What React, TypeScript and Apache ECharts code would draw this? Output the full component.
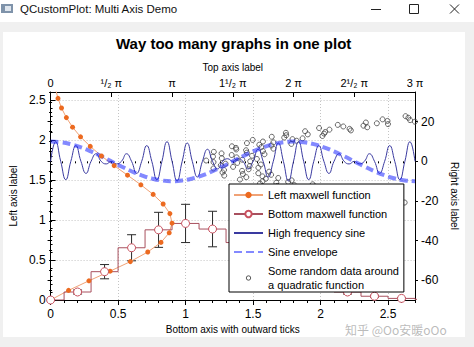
import React, { useEffect, useRef } from "react";
import * as echarts from "echarts";

// ---- data ----
const titleText = "Way too many graphs in one plot";
// Left maxwell function: key on left axis, value on bottom axis
const leftKeys = [0, 0.12, 0.24, 0.36, 0.48, 0.6, 0.72, 0.84, 0.96, 1.08, 1.2, 1.32, 1.44, 1.56, 1.68, 1.8, 1.92, 2.04, 2.16, 2.28, 2.4, 2.52, 2.64, 2.76, 2.88];
const leftVals = [0, 0.133, 0.284, 0.441, 0.591, 0.72, 0.818, 0.879, 0.9, 0.884, 0.834, 0.76, 0.669, 0.57, 0.471, 0.377, 0.294, 0.222, 0.163, 0.117, 0.081, 0.055, 0.036, 0.023, 0.015];
// Bottom maxwell function with error bars
const bottomX = [0, 0.2, 0.4, 0.6, 0.8, 1.0, 1.2, 1.4, 1.6, 1.8, 2.0, 2.2, 2.4, 2.6, 2.8];
const bottomY = [0, 0.1, 0.354, 0.653, 0.877, 0.957, 0.887, 0.718, 0.514, 0.33, 0.19, 0.1, 0.047, 0.02, 0.008];
const bottomErr = [0, 0.025, 0.089, 0.163, 0.219, 0.239, 0.222, 0.18, 0.129, 0.083, 0.048, 0.025, 0.012, 0.005, 0.002];
// High frequency sine (top axis, right axis)
const sineX = [0, 0.1309, 0.2618, 0.3927, 0.5236, 0.6545, 0.7854, 0.9163, 1.0472, 1.1781, 1.309, 1.4399, 1.5708, 1.7017, 1.8326, 1.9635, 2.0944, 2.2253, 2.3562, 2.4871, 2.618, 2.7489, 2.8798, 3.0107, 3.1416, 3.2725, 3.4034, 3.5343, 3.6652, 3.7961, 3.927, 4.0579, 4.1888, 4.3197, 4.4506, 4.5815, 4.7124, 4.8433, 4.9742, 5.1051, 5.236, 5.3669, 5.4978, 5.6287, 5.7596, 5.8905, 6.0214, 6.1523, 6.2832, 6.4141, 6.545, 6.6759, 6.8068, 6.9377, 7.0686, 7.1995, 7.3304, 7.4613, 7.5922, 7.7231, 7.854, 7.9849, 8.1158, 8.2467, 8.3776, 8.5085, 8.6394, 8.7703, 8.9012, 9.0321, 9.163, 9.2939, 9.4248];
const sineY = [0, 9.91, 0, -9.24, 0, 7.93, 0, -6.09, 0, 3.83, 0, -1.31, 0, -1.31, 0, 3.83, 0, -6.09, 0, 7.93, 0, -9.24, 0, 9.91, 0, -9.91, 0, 9.24, 0, -7.93, 0, 6.09, 0, -3.83, 0, 1.31, 0, 1.31, 0, -3.83, 0, 6.09, 0, -7.93, 0, 9.24, 0, -9.91, 0, 9.91, 0, -9.24, 0, 7.93, 0, -6.09, 0, 3.83, 0, -1.31, 0, -1.31, 0, 3.83, 0, -6.09, 0, 7.93, 0, -9.24, 0, 9.91, 0];
// Sine envelope
const envX = [0, 0.2618, 0.5236, 0.7854, 1.0472, 1.309, 1.5708, 1.8326, 2.0944, 2.3562, 2.618, 2.8798, 3.1416, 3.4034, 3.6652, 3.927, 4.1888, 4.4506, 4.7124, 4.9742, 5.236, 5.4978, 5.7596, 6.0214, 6.2832, 6.545, 6.8068, 7.0686, 7.3304, 7.5922, 7.854, 8.1158, 8.3776, 8.6394, 8.9012, 9.163, 9.4248];
const envY = [10, 9.66, 8.66, 7.07, 5, 2.59, 0, -2.59, -5, -7.07, -8.66, -9.66, -10, -9.66, -8.66, -7.07, -5, -2.59, 0, 2.59, 5, 7.07, 8.66, 9.66, 10, 9.66, 8.66, 7.07, 5, 2.59, 0, -2.59, -5, -7.07, -8.66, -9.66, -10];
// Random data around a quadratic function: key on right axis, value on top axis
const scatterRight = [-21.6, -21.2, -20.8, -20.4, -20, -19.6, -19.2, -18.8, -18.4, -18, -17.6, -17.2, -16.8, -16.4, -16, -15.6, -15.2, -14.8, -14.4, -14, -13.6, -13.2, -12.8, -12.4, -12, -11.6, -11.2, -10.8, -10.4, -10, -9.6, -9.2, -8.8, -8.4, -8, -7.6, -7.2, -6.8, -6.4, -6, -5.6, -5.2, -4.8, -4.4, -4, -3.6, -3.2, -2.8, -2.4, -2, -1.6, -1.2, -0.8, -0.4, 0, 0.4, 0.8, 1.2, 1.6, 2, 2.4, 2.8, 3.2, 3.6, 4, 4.4, 4.8, 5.2, 5.6, 6, 6.4, 6.8, 7.2, 7.6, 8, 8.4, 8.8, 9.2, 9.6, 10, 10.4, 10.8, 11.2, 11.6, 12, 12.4, 12.8, 13.2, 13.6, 14, 14.4, 14.8, 15.2, 15.6, 16, 16.4, 16.8, 17.2, 17.6, 18, 18.4, 18.8, 19.2, 19.6, 20, 20.4, 20.8, 21.2, 21.6, 22, 22.4, 22.8, 23.2];
const scatterTop = [9.688, 8.686, 9.158, 9.534, 8.532, 7.844, 8.838, 8.296, 7.768, 8.532, 7.72, 7.94, 6.924, 8.112, 7.012, 7.536, 6.552, 6.922, 7.416, 5.992, 6.772, 6.334, 6.84, 5.86, 6.302, 6.778, 5.416, 5.838, 6.144, 5.482, 6.234, 4.898, 5.566, 5.888, 5.062, 5.48, 4.49, 5.704, 4.972, 5.372, 4.446, 5.652, 4.952, 4.486, 5.122, 4.212, 5.374, 4.72, 5.15, 4.402, 5.438, 4.526, 4.828, 4.214, 5.162, 4.024, 4.958, 5.336, 4.428, 4.812, 4.2, 5.21, 4.684, 5.532, 4.422, 5.076, 4.222, 5.492, 5.056, 4.802, 5.762, 4.794, 5.45, 4.69, 5.712, 5.398, 6.226, 5.078, 5.764, 5.492, 6.364, 5.228, 6.256, 6.518, 6.042, 5.72, 7.03, 6.094, 6.652, 7.072, 6.086, 7.102, 6.582, 7.766, 7.212, 7.732, 6.944, 8.19, 7.57, 8.092, 7.428, 8.726, 8.438, 8.154, 9.422, 8.714, 9.298, 8.586, 9.748, 9.252, 10.28, 9.18, 10.194];
// Tick labels
const topTickLabels = ["0", "\u00b9/\u2082 \u03c0", "\u03c0", "1\u00b9/\u2082 \u03c0", "2 \u03c0", "2\u00b9/\u2082 \u03c0", "3 \u03c0"];
const rightTicks = [-60, -40, -20, 0, 20];
const seriesNames = ["Left maxwell function", "Bottom maxwell function", "High frequency sine", "Sine envelope", "Some random data around\na quadratic function"];

const FONT = "Liberation Sans";
const PI = Math.PI;

export default function App() {
  const ref = useRef<HTMLDivElement>(null);
  useEffect(() => {
    if (!ref.current) return;
    const chart = echarts.init(ref.current, undefined, { renderer: "svg" });
    const black = "#000";
    const grid = { type: [1, 2], color: "#c4c4c4", width: 1 };
    const hiddenSymbol = { color: "rgba(0,0,0,0)", borderWidth: 0, opacity: 0 };
    const option: any = {
      animation: false,
      textStyle: { fontFamily: FONT },
      title: {
        text: titleText,
        left: 116,
        top: 36,
        padding: 0,
        textStyle: { fontSize: 15, fontWeight: "bold", color: black, fontFamily: FONT },
      },
      graphic: [
        { type: "rect", z: -100, silent: true, shape: { x: 0, y: 0, width: 474, height: 347 }, style: { fill: "#f0f0f0" } },
        { type: "rect", z: -99, silent: true, shape: { x: 0, y: 0, width: 474, height: 22 }, style: { fill: "#ffffff" } },
        { type: "rect", z: -99, silent: true, shape: { x: 3, y: 32, width: 462, height: 305 }, style: { fill: "#ffffff" } },
        { type: "rect", z: -98, silent: true, shape: { x: 1, y: 4, width: 12, height: 9 }, style: { fill: "#7f93aa" } },
        { type: "rect", z: -97, silent: true, shape: { x: 5, y: 6, width: 6, height: 5 }, style: { fill: "#dfe6ee" } },
        { type: "text", z: -97, silent: true, style: { x: 20, y: 9, text: "QCustomPlot: Multi Axis Demo", fontSize: 11.5, fontFamily: FONT, fill: "#111", verticalAlign: "middle" } },
        { type: "line", z: -97, silent: true, shape: { x1: 371, y1: 9.5, x2: 381, y2: 9.5 }, style: { stroke: "#222", lineWidth: 1 } },
        { type: "rect", z: -97, silent: true, shape: { x: 409.5, y: 4.5, width: 9, height: 9 }, style: { fill: "none", stroke: "#222", lineWidth: 1 } },
        { type: "line", z: -97, silent: true, shape: { x1: 450, y1: 4.5, x2: 459, y2: 13.5 }, style: { stroke: "#222", lineWidth: 1 } },
        { type: "line", z: -97, silent: true, shape: { x1: 459, y1: 4.5, x2: 450, y2: 13.5 }, style: { stroke: "#222", lineWidth: 1 } },
        { type: "text", z: 100, silent: true, style: { x: 345, y: 329, text: "知乎 @Oo安暖oOo", fontSize: 12, fontFamily: "Noto Sans CJK SC", fill: "rgba(165,165,165,0.75)", verticalAlign: "middle" } },
      ],
      grid: { left: 48, right: 59, top: 92, bottom: 47, containLabel: false },
      legend: {
        orient: "vertical",
        left: 229,
        top: 184,
        backgroundColor: "#fff",
        borderColor: "#000",
        borderWidth: 1,
        borderRadius: 0,
        padding: [4, 5, 0, 4],
        itemGap: 5,
        itemWidth: 29,
        itemHeight: 8,
        textStyle: { fontSize: 11, color: black, fontFamily: FONT, lineHeight: 14 },
        data: [
          { name: seriesNames[0] },
          { name: seriesNames[1] },
          { name: seriesNames[2], itemStyle: hiddenSymbol },
          { name: seriesNames[3], itemStyle: hiddenSymbol },
          {
            name: seriesNames[4],
            icon: "path://M0 0M29 8M12.3 4a2.2 2.2 0 1 0 4.4 0a2.2 2.2 0 1 0 -4.4 0Z",
            itemStyle: { color: "rgba(255,255,255,0)", borderColor: "#333", borderWidth: 1 },
          },
        ],
        selectedMode: false,
        z: 10,
      },
      xAxis: [
        {
          type: "value", position: "bottom", min: 0, max: 2.7, interval: 0.5,
          axisLine: { show: true, onZero: false, lineStyle: { color: black, width: 1 } },
          axisTick: { show: true, inside: false, length: 5, lineStyle: { color: black } },
          axisLabel: { color: black, fontSize: 12, margin: 8, showMaxLabel: false, fontFamily: FONT },
          splitLine: { show: true, lineStyle: grid },
          name: "Bottom axis with outward ticks", nameLocation: "middle", nameGap: 21,
          nameTextStyle: { fontSize: 10, color: black, fontFamily: FONT },
        },
        {
          type: "value", position: "top", min: 0, max: 3 * PI, interval: PI / 2,
          axisLine: { show: true, onZero: false, lineStyle: { color: black, width: 1 } },
          axisTick: { show: true, inside: true, length: 5, lineStyle: { color: black } },
          axisLabel: {
            color: black, fontSize: 11, margin: 4, fontFamily: FONT,
            formatter: (v: number) => topTickLabels[Math.round(v / (PI / 2))] ?? "",
          },
          splitLine: { show: false },
          name: "Top axis label", nameLocation: "middle", nameGap: 20,
          nameTextStyle: { fontSize: 10, color: black, fontFamily: FONT },
        },
        {
          type: "value", position: "bottom", min: 0, max: 2.7, interval: 0.1,
          axisLine: { show: false }, axisLabel: { show: false }, splitLine: { show: false },
          axisTick: { show: true, inside: false, length: 3, lineStyle: { color: black } },
        },
        {
          type: "value", position: "top", min: 0, max: 3 * PI, interval: PI / 10,
          axisLine: { show: false }, axisLabel: { show: false }, splitLine: { show: false },
          axisTick: { show: true, inside: true, length: 2, lineStyle: { color: black } },
        },
      ],
      yAxis: [
        {
          type: "value", position: "left", min: 0, max: 2.6, interval: 0.5,
          axisLine: { show: true, onZero: false, lineStyle: { color: black, width: 1 } },
          axisTick: { show: true, inside: true, length: 5, lineStyle: { color: black } },
          axisLabel: { color: black, fontSize: 12, margin: 5, showMaxLabel: false, fontFamily: FONT },
          splitLine: { show: true, lineStyle: grid },
          name: "Left axis label", nameLocation: "middle", nameGap: 26, nameRotate: 90,
          nameTextStyle: { fontSize: 10, color: black, fontFamily: FONT },
        },
        {
          type: "value", position: "right", min: -70, max: 35, interval: 5,
          axisLine: { show: true, onZero: false, lineStyle: { color: black, width: 1 } },
          axisTick: { show: true, inside: false, length: 3, customValues: rightTicks, lineStyle: { color: black } },
          axisLabel: { color: black, fontSize: 12, margin: 6, customValues: rightTicks, fontFamily: FONT },
          splitLine: { show: false },
          name: "Right axis label", nameLocation: "middle", nameGap: 31, nameRotate: -90,
          nameTextStyle: { fontSize: 10, color: black, fontFamily: FONT },
        },
        {
          type: "value", position: "right", min: -70, max: 35, interval: 5,
          axisLine: { show: false }, axisLabel: { show: false }, splitLine: { show: false },
          axisTick: { show: true, inside: true, length: 3, customValues: rightTicks, lineStyle: { color: black } },
        },
        {
          type: "value", position: "right", min: -70, max: 35, interval: 5,
          axisLine: { show: false }, axisLabel: { show: false }, splitLine: { show: false },
          axisTick: { show: true, inside: false, length: 1.5, lineStyle: { color: black } },
        },
        {
          type: "value", position: "right", min: -70, max: 35, interval: 5,
          axisLine: { show: false }, axisLabel: { show: false }, splitLine: { show: false },
          axisTick: { show: true, inside: true, length: 1.5, lineStyle: { color: black } },
        },
        {
          type: "value", position: "left", min: 0, max: 2.6, interval: 0.1,
          axisLine: { show: false }, axisLabel: { show: false }, splitLine: { show: false },
          axisTick: { show: true, inside: true, length: 2, lineStyle: { color: black } },
        },
      ],
      series: [
        {
          name: seriesNames[0], type: "line", xAxisIndex: 0, yAxisIndex: 0,
          data: leftKeys.map((k, i) => [leftVals[i], k]),
          symbol: "circle", symbolSize: 5, showSymbol: true,
          lineStyle: { color: "#f0a276", width: 1 },
          itemStyle: { color: "#ec6a20" },
          clip: true,
        },
        {
          type: "custom", name: "errorbars", xAxisIndex: 0, yAxisIndex: 0,
          data: bottomX.map((x, i) => [x, bottomY[i], bottomErr[i]]),
          encode: { x: 0, y: 1 },
          clip: true,
          renderItem: (_params: any, api: any) => {
            const x = api.value(0), y = api.value(1), e = api.value(2);
            const lo = api.coord([x, y - e]);
            const hi = api.coord([x, y + e]);
            const w = 4.5;
            const st = { stroke: "#2a2a2a", lineWidth: 1 };
            return {
              type: "group",
              children: [
                { type: "line", shape: { x1: lo[0], y1: lo[1], x2: hi[0], y2: hi[1] }, style: st },
                { type: "line", shape: { x1: lo[0] - w, y1: lo[1], x2: lo[0] + w, y2: lo[1] }, style: st },
                { type: "line", shape: { x1: hi[0] - w, y1: hi[1], x2: hi[0] + w, y2: hi[1] }, style: st },
              ],
            };
          },
        },
        {
          name: seriesNames[1], type: "line", step: "middle", xAxisIndex: 0, yAxisIndex: 0,
          data: bottomX.map((x, i) => [x, bottomY[i]]),
          symbol: "circle", symbolSize: 8, showSymbol: true,
          lineStyle: { color: "#a8505e", width: 1 },
          itemStyle: { color: "#fff", borderColor: "#c8505e", borderWidth: 1 },
          clip: true,
        },
        {
          name: seriesNames[2], type: "line", xAxisIndex: 1, yAxisIndex: 1,
          data: sineX.map((x, i) => [x, sineY[i]]),
          smooth: 0.5, symbol: "none",
          lineStyle: { color: "#3a3aa0", width: 1 },
          itemStyle: { color: "#3a3aa0" },
          clip: true,
        },
        {
          name: seriesNames[3], type: "line", xAxisIndex: 1, yAxisIndex: 1,
          data: envX.map((x, i) => [x, envY[i]]),
          smooth: true, symbol: "none",
          lineStyle: { color: "rgba(30,40,255,0.55)", width: 4, type: [8, 4] },
          itemStyle: { color: "rgba(30,40,255,0.55)" },
          clip: true,
        },
        {
          name: seriesNames[4], type: "scatter", xAxisIndex: 1, yAxisIndex: 1,
          data: scatterRight.map((v, i) => [scatterTop[i], v]),
          symbol: "circle", symbolSize: 5,
          itemStyle: { color: "rgba(255,255,255,0)", borderColor: "#444", borderWidth: 1 },
          clip: true,
        },
      ],
    };
    chart.setOption(option);
    return () => chart.dispose();
  }, []);
  return <div ref={ref} style={{ position: "absolute", left: 0, top: 0, width: 474, height: 347 }} />;
}
